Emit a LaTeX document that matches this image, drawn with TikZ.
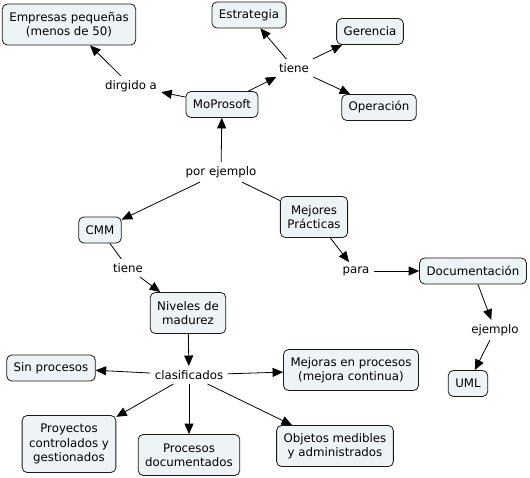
\documentclass[tikz,border=0pt]{standalone}
\usepackage{fontspec}
\setmainfont{DejaVu Sans}
\usetikzlibrary{arrows.meta, positioning}
\definecolor{cmapfill}{RGB}{238,243,246}
\definecolor{cmapline}{RGB}{25,25,25}

\begin{document}
\begin{tikzpicture}[x=1pt, y=-1pt, line width=0.8pt,
    >={Triangle[length=10.5pt,width=9pt]},
    concept/.style={draw=cmapline, fill=cmapfill, rounded corners=5pt, align=center,
        inner xsep=7pt, inner ysep=3pt, minimum height=26pt,
        font=\fontsize{11.8}{14.3}\selectfont},
    twoline/.style={concept, minimum height=41pt},
    threeline/.style={concept, minimum height=57pt},
    link/.style={inner sep=4pt, font=\fontsize{11.8}{14.3}\selectfont}]
    \path[use as bounding box] (0,0) rectangle (530,477);

    \node[twoline] (emp) at (69,24.5) {Empresas pequeñas\\(menos de 50)};
    \node[concept] (est) at (249,15) {Estrategia};
    \node[concept] (ger) at (370,31.5) {Gerencia};
    \node[concept] (ope) at (379,107.5) {Operación};
    \node[concept] (mop) at (222,104.5) {MoProsoft};
    \node[concept] (cmm) at (100,230) {CMM};
    \node[twoline] (mej) at (314,217) {Mejores\\Prácticas};
    \node[concept] (doc) at (473,271) {Documentación};
    \node[concept] (uml) at (468,383.5) {UML};
    \node[twoline] (niv) at (188,313) {Niveles de\\madurez};
    \node[concept] (sin) at (51,368) {Sin procesos};
    \node[threeline] (proy) at (69,444) {Proyectos\\controlados y\\gestionados};
    \node[twoline] (pdoc) at (189,455) {Procesos\\documentados};
    \node[twoline] (mejp) at (351,370) {Mejoras en procesos\\(mejora continua)};
    \node[twoline] (obj) at (335,446) {Objetos medibles\\y administrados};

    % linking phrases
    \node[link] (dir) at (131,86) {dirgido a};
    \node[link] (tiene1) at (294,68) {tiene};
    \node[link] (porej) at (221,172) {por ejemplo};
    \node[link] (para) at (356,271) {para};
    \node[link] (ejem) at (495,330) {ejemplo};
    \node[link] (tiene2) at (128,268) {tiene};
    \node[link] (clas) at (189,375) {clasificados};

    \path[->]
    (mop) edge (dir)
    (dir) edge (emp)
    (mop) edge (tiene1)
    (tiene1) edge (est)
    (tiene1) edge (ger)
    (tiene1) edge (ope)
    (porej) edge (mop)
    (porej) edge (cmm)
    (mej) edge (para)
    (para) edge (doc)
    (doc) edge (ejem)
    (ejem) edge (uml)
    (tiene2) edge (niv)
    (niv) edge (clas)
    (clas) edge (sin)
    (clas) edge (proy)
    (clas) edge (pdoc)
    (clas) edge (mejp)
    (clas) edge (obj);
    \path
    (mej) edge (porej)
    (cmm) edge (tiene2);
\end{tikzpicture}
\end{document}
